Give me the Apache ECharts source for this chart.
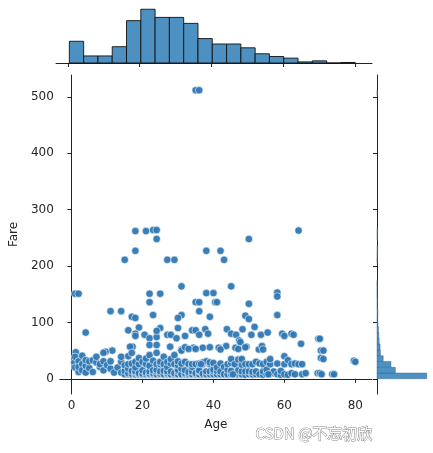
<!DOCTYPE html>
<html><head><meta charset="utf-8">
<script src="https://cdn.jsdelivr.net/npm/echarts@6/dist/echarts.min.js"></script>
<style>html,body{margin:0;padding:0;background:#fff}#c{width:433px;height:453px}</style>
</head><body><div id="c"></div>
<script>
const ageBinEdges=[0.42,4.4,8.38,12.36,16.34,20.32,24.3,28.28,32.26,36.24,40.22,44.2,48.18,52.16,56.14,60.12,64.1,68.08,72.06,76.04,80.02];
const ageCounts=[40,13,13,30,78,99,84,84,73,45,35,35,28,17,12,9,2,4,0,1];
const fareBinEdges=[0,10.25,20.5,30.75,41,51.25,61.5,71.75,82,92.25,102.5,112.75,123,133.25,143.5,153.75,164,174.25,184.5,194.75,205,215.25,225.5,235.75,246,256.25,266.5,276.75,287,297.25,307.5,317.75,328,338.25,348.5,358.75,369,379.25,389.5,399.75,410,420.25,430.5,440.75,451,461.25,471.5,481.75,492,502.25,512.5];
const fareCounts=[320,118,90,40,22,20,14,12,10,6,5,6,3,3,2,2,1,0,0,0,2,3,4,0,3,4,0,0,0,0,0,0,0,0,0,0,0,0,0,0,0,0,0,0,0,0,0,0,0,2];
const xTicks=[0,20,40,60,80];
const yTicks=[0,100,200,300,400,500];
const points=[[35,512],[36,512],[18,262],[21,262],[23,264],[24,264],[24,248],[64,263],[50,248],[18,227],[38,227],[42,227],[15,211],[27,211],[29,211],[43,211],[31,164],[45,164],[1,151],[2,151],[22,151],[25,151],[38,152],[40,152],[58,153],[58,146],[22,136],[35,136],[36,136],[40.5,136],[41,136],[50,133],[11,120],[14,120],[17,110],[18,108],[23,113],[31,113],[30,108],[36,120],[39,110],[49,112],[50,106],[58,113],[4,82],
[16,86],[19,91],[18,80],[18,76],[20.6,78],[22,72],[24,74],[25,90],[24,85],[27,78],[28,78],[29.6,72],[30,90],[32,76],[34,86],[35,86],[36,78],[37.7,88],[38.5,80],[43.8,88],[45,80],[46.4,78],[47.3,68],[48.2,88],[50.7,78],[51.6,92],[53.4,78],[55.3,82],[59.4,80],[60,76],[62,80],[62.6,78],[64.7,62],[69.6,71],[70.3,50],[70.3,37],[79.6,32],[73.5,8],[69.4,10],[17.2,57],[16.5,57],[22,60],[24,60],[27.8,57],[31,52],[34.4,55],[37,55],[39,56],[41.5,55],[43.6,58],[46.2,55],[47.6,65],[49.3,57],[52.8,52],[53.7,58],[11.5,50],[9.6,48],[1.2,47],
[0.8,29],[1,39],[1,20],[2,31],[2,12],[2,21],[3,41],[3,26],[3,15],[4,23],[4,11],[4,33],[5,19],[5,31],[6,12],[6,33],[7,29],[7,39],[8,21],[8,26],[9,31],[9,15],[9,46],[10,24],[11,18],[11,31],[12,11],[13,20],[14,11],[14,30],[14,39],[15,8],[15,14],[15,24],[16,8],[16,10],[16,18],[16,26],[16,40],[17,7],[17,9],[17,14],[17,27],[17,46],[18,7],[18,8],[18,11],[18,13],[18,20],[18,30],[19,7],[19,8],[19,10],[19,26],[19,37],[20,7],[20,8],[20,9],[20,15],[20,30],[21,7],[21,8],[21,11],[21,26],[21,36],[22,7],[22,8],[22,9],[22,13],[22,23],[22,42],[23,7],[23,8],[23,10],[23,15],[23,32],[24,7],[24,8],[24,13],[24,16],[24,26],[24,46],[25,7],[25,8],[25,9],[25,13],[25,26],[25,30],[26,7],[26,8],[26,14],[26,26],[26,39],[27,7],[27,8],[27,10],[27,13],[27,21],[27,30],[28,7],[28,8],[28,13],[28,27],[28,35],[29,7],[29,8],[29,10],[29,26],[29,42],[30,7],[30,8],[30,13],[30,16],[30,24],[30,31],[31,7],[31,8],[31,18],[31,27],[31,50],[32,7],[32,8],[32,10],[32,15],[32,30],[32,56],[33,7],[33,9],[33,12],[33,26],[33,53],[34,7],[34,8],[34,13],[34,21],[34,26],[35,7],[35,8],[35,10],[35,26],[35,53],[36,7],[36,8],[36,13],[36,15],[36,27],[37,7],[37,9],[37,26],[37,29],[38,7],[38,8],[38,13],[38,31],[39,7],[39,8],[39,13],[39,26],[39,29],[40,7],[40,8],[40,13],[40,16],[40,28],[41,7],[41,8],[41,14],[41,20],[42,7],[42,8],[42,13],[42,27],[42,52],[43,7],[43,8],[43,21],[44,7],[44,8],[44,16],[44,26],[45,7],[45,8],[45,14],[45,28],[45,35],[46,7],[46,8],[46,26],[47,7],[47,9],[47,15],[47,34],[47,53],[48,7],[48,8],[48,13],[48,25],[48,35],[49,7],[49,13],[49,26],[49,56],[50,8],[50,13],[50,26],[51,7],[51,8],[51,12],[51,26],[52,8],[52,13],[52,30],[53,8],[53,27],[54,7],[54,13],[54,26],[54,52],[55,8],[55,16],[55,30],[56,8],[56,26],[56,35],[57,10],[57,13],[58,8],[58,27],[59,7],[59,14],[60,8],[60,26],[60,40],[61,7],[61,33],[62,10],[62,26],[63,8],[63,27],[64,26],[65,8],[65,26],[66,10],[70,10],[70,71],[71,35],[71,50],[74,8],[80,30],[55.5,8],[45.5,8],[36.5,26],[70.5,8]];

const ageHist=ageCounts.map((c,i)=>[ageBinEdges[i],ageBinEdges[i+1],c]);
const fareHist=fareCounts.map((c,i)=>[fareBinEdges[i],fareBinEdges[i+1],c]);
const BLUE='#4c91c2';
const TXT={color:'#262626',fontSize:12,fontFamily:'DejaVu Sans'};
const ax={lineStyle:{color:'#222',width:1}};
const tk={show:true,length:4,inside:false,lineStyle:{color:'#222'}};
const chart=echarts.init(document.getElementById('c'),null,{renderer:'canvas'});
chart.setOption({
 animation:false,
 grid:[{left:56,right:61,top:75,bottom:59},{left:56,right:61,top:6,bottom:390},{left:377,right:0,top:75,bottom:59}],
 xAxis:[
  {gridIndex:0,type:'value',min:-3.3,max:84.7,axisLine:ax,axisTick:Object.assign({customValues:xTicks},tk),axisLabel:Object.assign({customValues:xTicks,margin:6},TXT),splitLine:{show:false},name:'Age',nameLocation:'middle',nameGap:25,nameTextStyle:TXT},
  {gridIndex:1,type:'value',min:-3.3,max:84.7,axisLine:ax,axisTick:Object.assign({customValues:xTicks},tk),axisLabel:{show:false},splitLine:{show:false}},
  {gridIndex:2,type:'value',min:0,max:360,show:false}
 ],
 yAxis:[
  {gridIndex:0,type:'value',min:-27,max:539,axisLine:Object.assign({show:true},ax),axisTick:Object.assign({customValues:yTicks},tk),axisLabel:Object.assign({customValues:yTicks,margin:6},TXT),splitLine:{show:false},name:'Fare',nameLocation:'middle',nameGap:38,nameRotate:90,nameTextStyle:TXT},
  {gridIndex:1,type:'value',min:0,max:105,show:false},
  {gridIndex:2,type:'value',min:-27,max:539,axisLine:Object.assign({show:true},ax),axisTick:Object.assign({customValues:yTicks},tk),axisLabel:{show:false},splitLine:{show:false}}
 ],
 series:[
  {type:'scatter',xAxisIndex:0,yAxisIndex:0,data:points,symbolSize:7.5,itemStyle:{color:'#2f78b4',borderColor:'#ffffff',borderWidth:0.6,opacity:0.95}},
  {type:'custom',xAxisIndex:1,yAxisIndex:1,data:ageHist,renderItem:(p,api)=>{
    const a=api.coord([api.value(0),0]),b=api.coord([api.value(1),api.value(2)]);
    return {type:'rect',shape:{x:a[0],y:b[1],width:b[0]-a[0],height:a[1]-b[1]},style:{fill:BLUE,stroke:'#111',lineWidth:0.9}};}},
  {type:'custom',xAxisIndex:2,yAxisIndex:2,data:fareHist,renderItem:(p,api)=>{
    const a=api.coord([0,api.value(0)]),b=api.coord([api.value(2),api.value(1)]);
    if(api.value(2)<=0)return null;
    return {type:'rect',shape:{x:a[0],y:b[1],width:b[0]-a[0],height:a[1]-b[1]},style:{fill:BLUE,stroke:'#2a5f8a',lineWidth:0.4}};}}
 ],
 graphic:[{type:'text',left:255,top:425,style:{text:'CSDN @不忘初欣',fontSize:15,fontFamily:'Noto Sans CJK SC',fill:'#ffffff',stroke:'#888',lineWidth:1}}]
});
</script></body></html>
